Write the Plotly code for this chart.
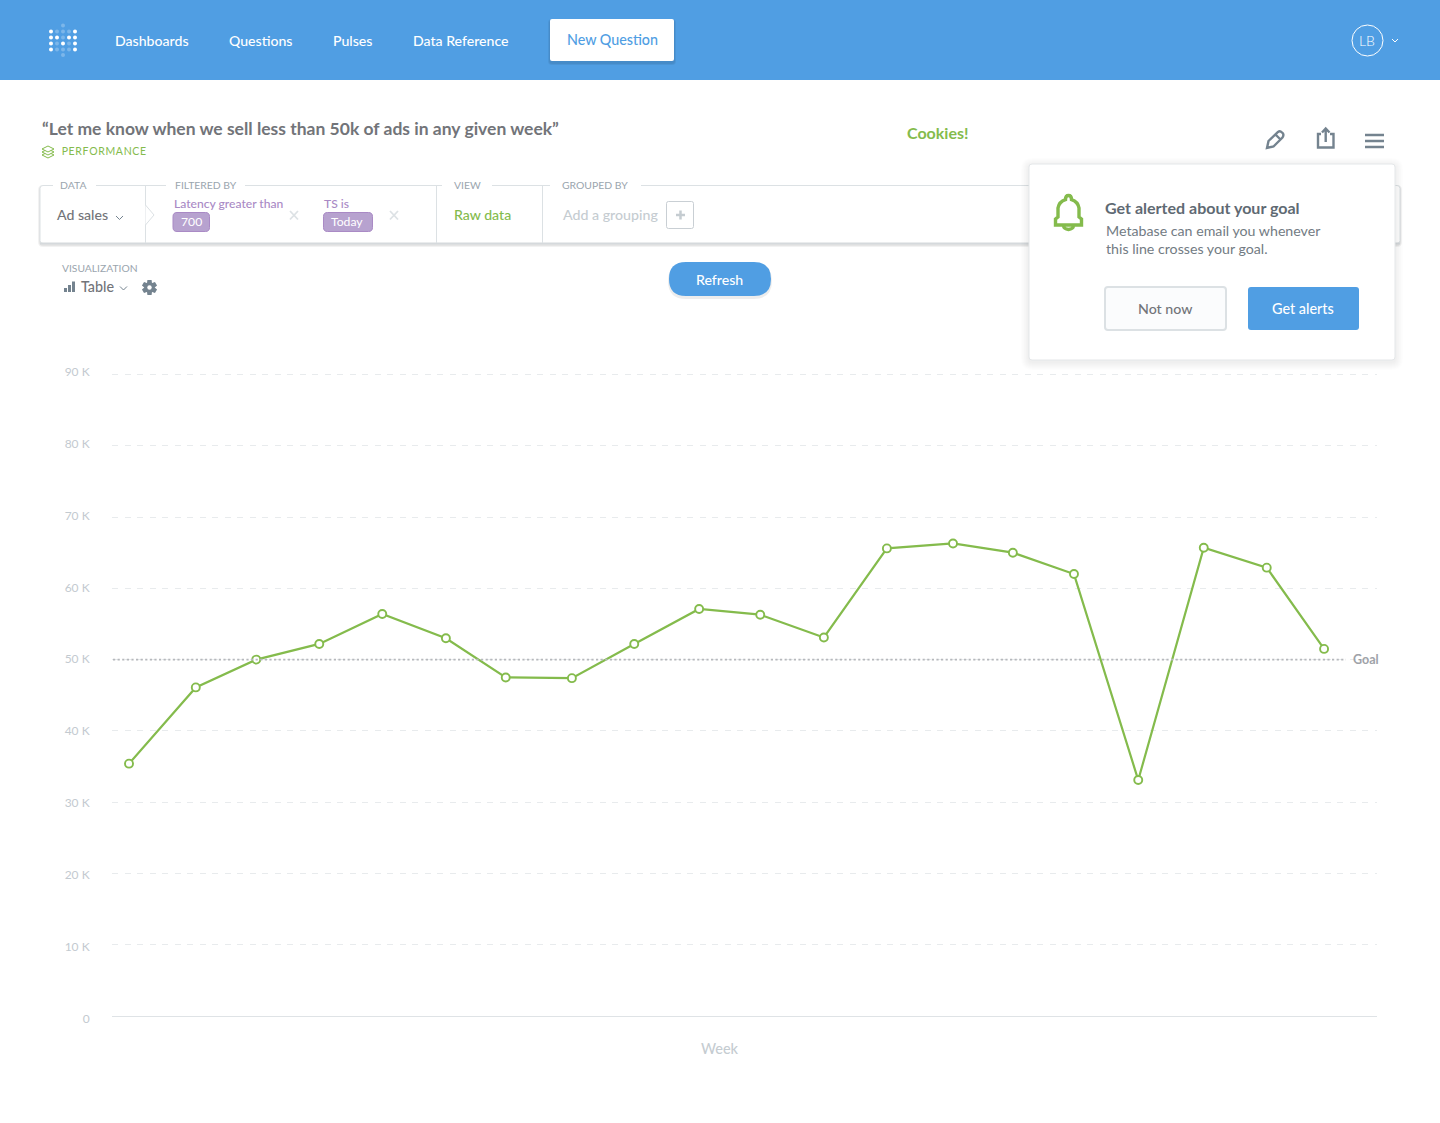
import math
import plotly.graph_objects as go

W, H = 1440, 1123

weeks = [0.0, 1.06, 2.02, 3.02, 4.02, 5.03, 5.98, 7.03, 8.02, 9.05,
         10.02, 11.03, 12.03, 13.08, 14.03, 15.0, 16.02, 17.06, 18.06, 18.97]
ad_sales = [35.4, 46.1, 50.0, 52.2, 56.4, 53.0, 47.5, 47.4, 52.2, 57.1,
            56.3, 53.1, 65.6, 66.3, 65.0, 62.0, 33.1, 65.7, 62.9, 51.5]
goal = 50
y_ticks = [0, 10, 20, 30, 40, 50, 60, 70, 80, 90]
y_tick_labels = ["0", "10 K", "20 K", "30 K", "40 K", "50 K", "60 K", "70 K", "80 K", "90 K"]

BLUE = "#509EE3"
GREEN = "#84BB4C"
PURPLE = "#A989C5"
GREY = "#74838F"
shapes = []
annotations = []


def fx(x):
    return x / W


def fy(y):
    return 1 - y / H


def pth(d):
    # absolute pixel path -> paper coords
    out = []
    is_x = True
    for tok in d.split():
        if tok.isalpha():
            out.append(tok)
            is_x = True
        else:
            out.append(f"{fx(float(tok)):.5f}" if is_x else f"{fy(float(tok)):.5f}")
            is_x = not is_x
    return " ".join(out)


def path(d, fill=None, line=None, width=1, layer="above", opacity=1):
    shapes.append(dict(type="path", xref="paper", yref="paper", path=pth(d), layer=layer, opacity=opacity,
                       fillcolor=fill or "rgba(0,0,0,0)", line=dict(color=line or "rgba(0,0,0,0)", width=width if line else 0)))


def rrect(x0, y0, x1, y1, r=0, fill=None, line=None, width=1, opacity=1, layer="above"):
    d = (f"M {x0+r} {y0} L {x1-r} {y0} Q {x1} {y0} {x1} {y0+r} L {x1} {y1-r} Q {x1} {y1} {x1-r} {y1} "
         f"L {x0+r} {y1} Q {x0} {y1} {x0} {y1-r} L {x0} {y0+r} Q {x0} {y0} {x0+r} {y0} Z")
    path(d, fill, line, width, layer, opacity)


def seg(x0, y0, x1, y1, color, width=1):
    path(f"M {x0} {y0} L {x1} {y1}", None, color, width)


def dot(x, y, r, fill=None, line=None, width=1, opacity=1):
    shapes.append(dict(type="circle", xref="paper", yref="paper", x0=fx(x - r), x1=fx(x + r), y0=fy(y + r), y1=fy(y - r),
                       fillcolor=fill or "rgba(0,0,0,0)", opacity=opacity, layer="above",
                       line=dict(color=line or "rgba(0,0,0,0)", width=width if line else 0)))


def txt(x, y, s, size, color, weight=400, anchor="left"):
    annotations.append(dict(xref="paper", yref="paper", x=fx(x), y=fy(y), text=s, showarrow=False, xanchor=anchor,
                            yanchor="middle", borderpad=0, borderwidth=0,
                            font=dict(family="Lato", size=size, color=color, weight=weight)))


def shadow(x0, y0, x1, y1, r, spread, alpha):
    for i in range(spread, 0, -1):
        rrect(x0 - i, y0 - i + 2, x1 + i, y1 + i + 2, r + i, fill=f"rgba(0,0,0,{alpha})")


# top bar
rrect(0, 0, W, 80, fill=BLUE)
logo_cols = [51, 57, 63, 69, 75]
logo_rows = [31.5, 37.5, 43.5, 49.5]
logo_on = [[1, 0, 0, 0, 1], [1, 1, 0, 1, 1], [1, 0, 1, 0, 1], [1, 0, 0, 0, 1]]
for r, row in enumerate(logo_rows):
    for c, col in enumerate(logo_cols):
        dot(col, row, 2, fill="white", opacity=1 if logo_on[r][c] else 0.25)
dot(63, 25.5, 2, fill="white", opacity=0.25)
dot(63, 55, 2, fill="white", opacity=0.25)
for x, s in [(115, "Dashboards"), (229, "Questions"), (333, "Pulses"), (413, "Data Reference")]:
    txt(x, 41, s, 14.1, "white", 500)
shadow(550, 19, 674, 61, 2, 2, 0.06)
rrect(550, 19, 674, 61, 2, fill="white")
txt(612.5, 40, "New Question", 14.3, BLUE, 500, "center")
dot(1367.5, 40.5, 15.5, line="white", width=1)
txt(1367, 41, "LB", 14, "white", 300, "center")
path("M 1392 39 L 1395 42 L 1398 39", None, "white", 1)

# question header
txt(42, 129, "“Let me know when we sell less than 50k of ads in any given week”", 17.5, "#727479", 700)
for dy, fill in [(6, None), (3, None), (0, "white")]:
    path(f"M 48 {146+dy} L 54 {149+dy} L 48 {152+dy} L 42 {149+dy} Z", fill or "white", GREEN, 1)
txt(60.5, 151, "\u200aP\u200aE\u200aR\u200aF\u200aO\u200aR\u200aM\u200aA\u200aN\u200aC\u200aE", 10.5, GREEN, 400)
txt(907, 132.5, "Cookies!", 16, GREEN, 700)

# action icons
path("M 1267 148 L 1268.5 141 L 1278 132 Q 1280 130.5 1282 132.5 L 1283 133.5 Q 1284 135.5 1282.5 137.5 L 1273.5 146.5 Z M 1275.5 134.5 L 1280.5 139.5",
     None, GREY, 2.4)
path("M 1321 134 L 1318 134 L 1318 147.5 L 1333.5 147.5 L 1333.5 134 L 1330 134", None, GREY, 2.4)
path("M 1325.7 142 L 1325.7 129 M 1322 132.5 L 1325.7 128.5 L 1329.5 132.5", None, GREY, 2.4)
for y in [135, 141, 147]:
    seg(1365, y, 1384, y, GREY, 2.5)

# query bar
shadow(40, 185, 1400, 243, 3, 2, 0.05)
rrect(40, 185.5, 1400, 243.5, 3, fill="white", line="#DCE1E4", width=1)
path("M 40 243.5 L 1400 243.5", None, "#D5D9DC", 2)
for x in [145.5, 436.5, 542.5]:
    seg(x, 186, x, 243, "#DCE1E4", 1)
path("M 145.5 205 L 154 215 L 145.5 225", "white", "#DCE1E4", 1)
for x0, x1, x, y, s in [(53, 96, 60, 184.5, "DATA"), (166, 245, 175, 185, "FILTERED BY"),
                        (442, 492, 454, 185, "VIEW"), (550, 641, 562, 185, "GROUPED BY")]:
    rrect(x0, 183, x1, 188, fill="white")
    txt(x, y, s, 10.4, "#9AA5AE", 400)
txt(57, 215, "Ad sales", 14.1, "#727479", 500)
path("M 116 216 L 119.5 219.5 L 123 216", None, GREY, 1)
txt(174, 203.5, "Latency greater than", 12.1, PURPLE, 500)
txt(324, 203.5, "TS is", 12.1, PURPLE, 500)
rrect(173, 212.5, 209.5, 231.5, 4, fill="#B7A2CF", line=PURPLE, width=1)
rrect(323.5, 212.5, 372.5, 231.5, 4, fill="#B7A2CF", line=PURPLE, width=1)
txt(191.5, 221.5, "700", 12.2, "white", 400, "center")
txt(347, 221.5, "Today", 12.2, "white", 400, "center")
for x in [294, 394]:
    seg(x - 4, 211, x + 4, 219.5, "#DDE2E5", 1.8)
    seg(x + 4, 211, x - 4, 219.5, "#DDE2E5", 1.8)
txt(454, 215, "Raw data", 14.1, GREEN, 500)
txt(563, 215, "Add a grouping", 14.2, "#C5CCD1", 500)
rrect(666.5, 201.5, 693.5, 228.5, 2, fill="white", line="#C9CFD4", width=1)
seg(676, 215, 685, 215, "#C5CCD1", 2.5)
seg(680.5, 210.5, 680.5, 219.5, "#C5CCD1", 2.5)

# visualization picker
txt(62, 268, "VISUALIZATION", 10.3, "#9AA5AE", 400)
for x, y in [(65.5, 288), (69.5, 285), (73.5, 281.5)]:
    rrect(x - 1.5, y, x + 1.5, 292, fill=GREY)
txt(81, 286.5, "Table", 14.3, "#727479", 500)
path("M 120 286.5 L 123.5 290 L 127 286.5", None, GREY, 1)
gear = []
for i in range(6):
    a = math.radians(60 * i)
    for da, rad in [(-0.5, 5.2), (-0.27, 7.8), (0.27, 7.8), (0.5, 5.2)]:
        gear.append(f"{149.5 + rad * math.sin(a + da):.2f} {287.5 - rad * math.cos(a + da):.2f}")
path("M " + " L ".join(gear) + " Z", GREY)
dot(149.5, 287.5, 2.2, fill="white")

# refresh
shadow(669, 262, 771, 296, 17, 1, 0.07)
rrect(669, 262, 771, 296, 17, fill=BLUE)
txt(719.5, 279.5, "Refresh", 14.1, "white", 500, "center")

# alert popup
shadow(1029, 164, 1395, 360, 3, 8, 0.008)
rrect(1029, 164, 1395, 360, 3, fill="white", line="#E4E7E9", width=1)
path("M 1055.5 225 L 1055.5 219 L 1058 217 L 1058 208 Q 1059 201.5 1065.5 199.5 Q 1065.5 195.5 1068.5 195.5 Q 1071.5 195.5 1071.5 199.5 "
     "Q 1078 201.5 1079 208 L 1079 217 L 1081.5 219 L 1081.5 225 Z", None, GREEN, 3.4)
path("M 1063.5 226 Q 1064 229 1068.5 229.5 Q 1073 229 1073.5 226", None, GREEN, 3.4)
txt(1105, 208, "Get alerted about your goal", 16.05, "#5F6A73", 700)
txt(1106, 230.5, "Metabase can email you whenever", 14.2, "#727B83", 400)
txt(1106, 249, "this line crosses your goal.", 14.2, "#727B83", 400)
rrect(1105, 287, 1226, 330, 3, fill="#FBFCFD", line="#DCE1E4", width=2)
txt(1165, 309, "Not now", 14.2, "#727479", 500, "center")
rrect(1248, 287, 1359, 330, 3, fill=BLUE)
txt(1303.3, 309, "Get alerts", 14.4, "white", 500, "center")

# goal line, drawn against the chart's own y axis
shapes.append(dict(type="line", xref="paper", yref="y", x0=fx(113), x1=fx(1346), y0=goal, y1=goal, layer="above",
                   line=dict(color="#B6B8BC", width=1.8, dash="2.2px,2.4px")))
annotations.append(dict(xref="paper", yref="y", x=fx(1350.5), y=goal, text="Goal", showarrow=False, xanchor="left",
                        yanchor="middle", font=dict(family="Lato", size=12.5, color="#9EA2A8", weight=700)))
txt(720, 1048, "Week", 14.5, "#C5CCD1", 500, "center")

fig = go.Figure()
fig.add_trace(go.Scatter(x=weeks, y=ad_sales, mode="lines+markers", line=dict(color=GREEN, width=2.2),
                         marker=dict(size=8, color="white", line=dict(color=GREEN, width=1.9)),
                         cliponaxis=False, hoverinfo="skip"))
# tick labels sit on a slightly wider spacing than the gridlines, so they get their own axis
fig.add_trace(go.Scatter(x=[weeks[0]] * len(y_ticks), y=y_ticks, yaxis="y2", mode="markers", marker=dict(opacity=0),
                         hoverinfo="skip"))
fig.update_layout(
    width=W, height=H, margin=dict(l=0, r=0, t=0, b=0, autoexpand=False), autosize=False, showlegend=False,
    paper_bgcolor="white", plot_bgcolor="rgba(0,0,0,0)", shapes=shapes, annotations=annotations,
    font=dict(family="Lato"),
    xaxis=dict(domain=[fx(112), fx(1377)], range=[-0.27, 19.81], showgrid=False, zeroline=False, showticklabels=False,
               showline=False, ticks=""),
    yaxis=dict(domain=[fy(1016), fy(373.07)], range=[0, 90.2], tickvals=y_ticks, showticklabels=False, ticks="",
               showgrid=True, gridcolor="#E8EBED", griddash="6px,6.5px", gridwidth=1, zeroline=True,
               zerolinecolor="#DFE3E6", zerolinewidth=1, showline=False),
    yaxis2=dict(domain=[fy(1019), fy(371.5)], range=[0, 90], tickvals=y_ticks, ticktext=y_tick_labels, anchor="x",
                showgrid=False, zeroline=False, showline=False, ticks="outside", ticklen=19, tickcolor="rgba(0,0,0,0)",
                tickfont=dict(family="Lato", size=12, color="#C3CAD0")),
)
fig.write_html("out.html", config=dict(displayModeBar=False),
               post_script="document.body.style.margin='0';document.body.style.overflow='hidden';")
